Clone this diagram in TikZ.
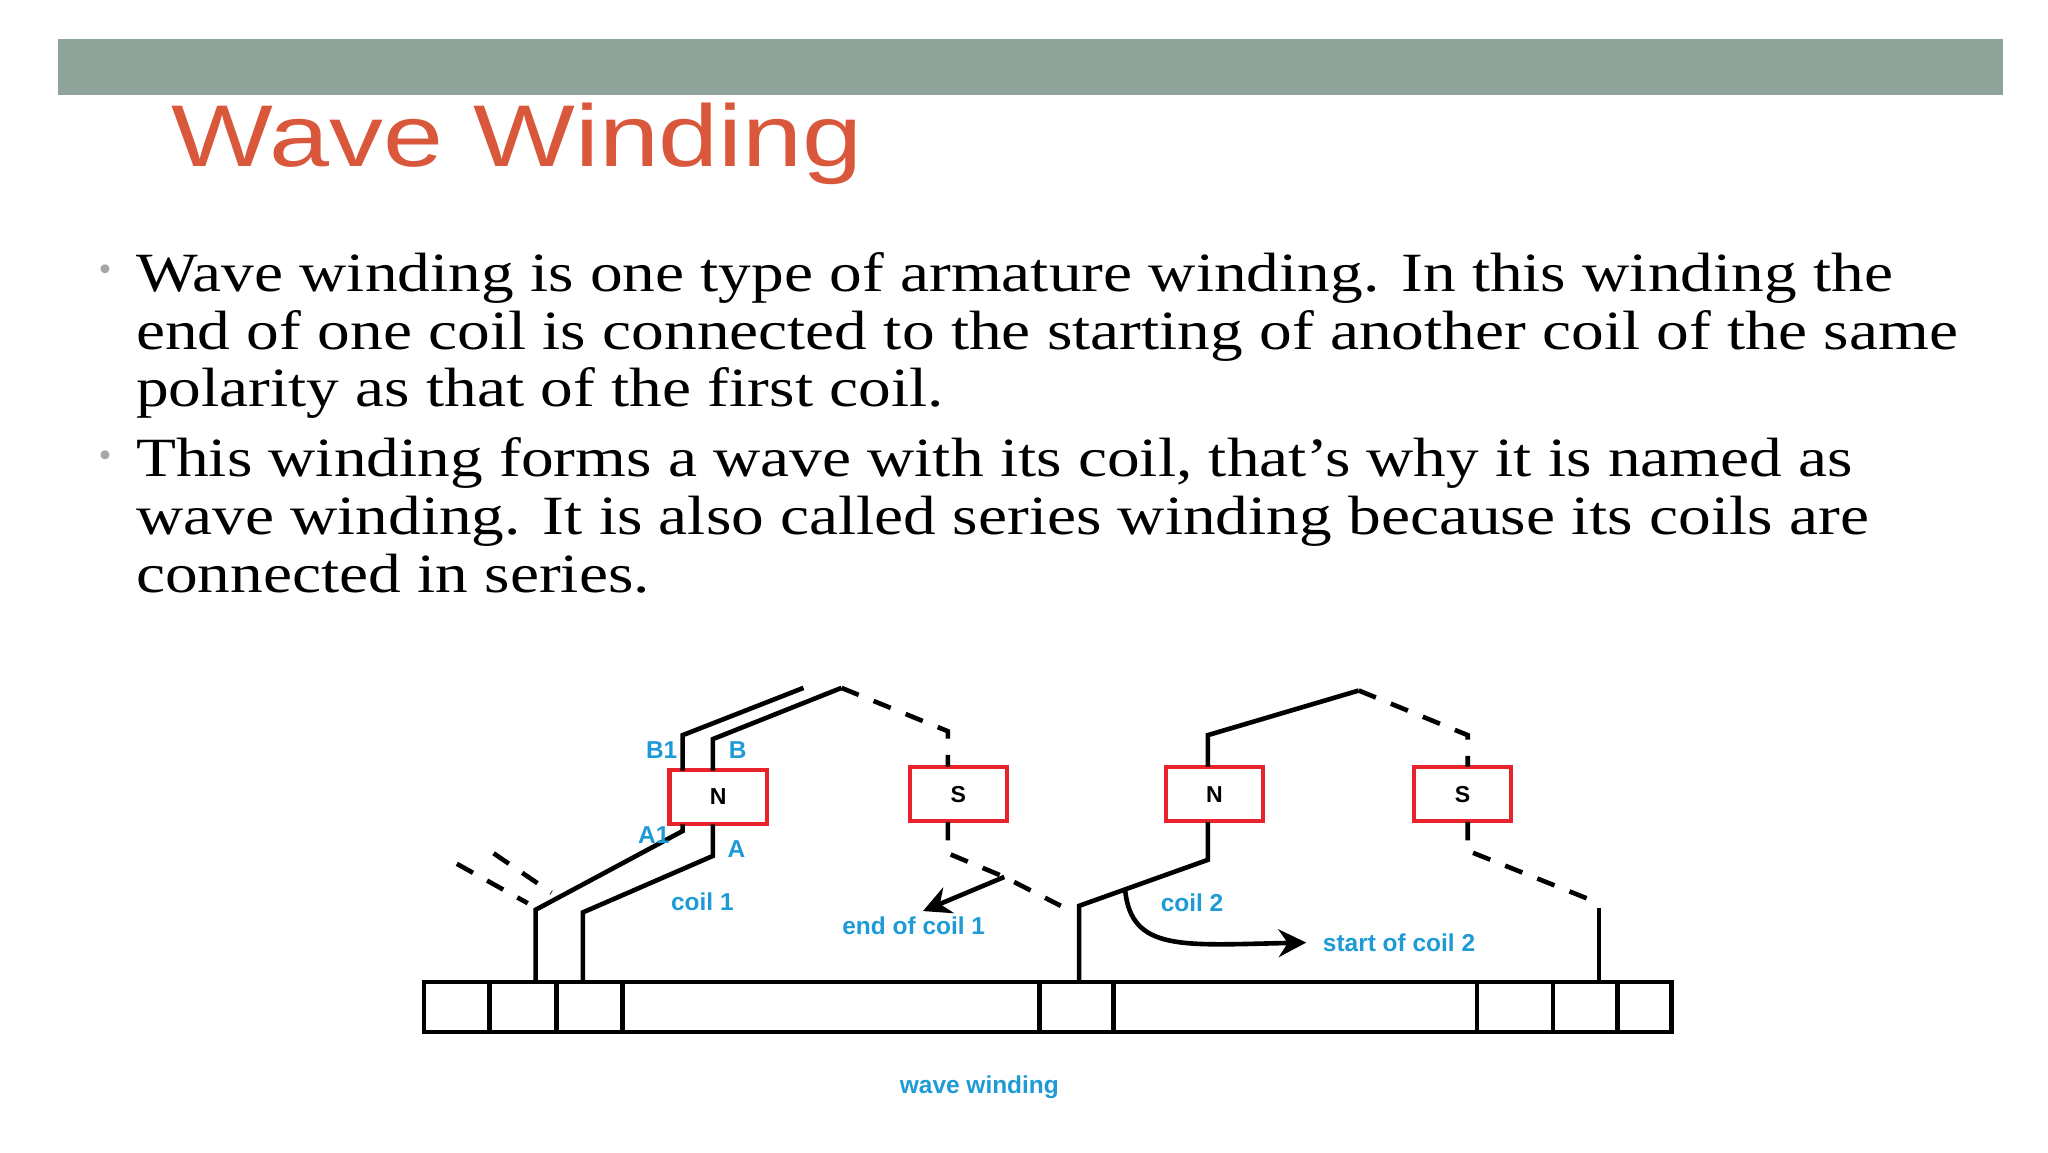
\documentclass[tikz,border=0pt]{standalone}
\usepackage{fontspec}
\setmainfont{Liberation Serif}
\newfontfamily\titlefont{Liberation Sans}
\usetikzlibrary{arrows.meta}
\definecolor{barcol}{HTML}{8FA39A}
\definecolor{titlecol}{HTML}{D9583B}
\definecolor{labcol}{HTML}{1E9BD7}
\definecolor{boxred}{HTML}{E8232B}
\begin{document}
\begin{tikzpicture}[x=0.1mm,y=-0.1mm,
  wire/.style={line width=1pt,black},
  dwire/.style={line width=1pt,black,dash pattern=on 4pt off 3.5pt},
  pole/.style={draw=boxred,line width=0.9pt,minimum width=7.4mm,minimum height=4.1mm,inner sep=0pt,font=\titlefont\bfseries\fontsize{5}{6}\selectfont},
  lab/.style={text=labcol,font=\titlefont\bfseries\fontsize{5.3}{6}\selectfont,inner sep=0pt},
  body/.style={anchor=base west,inner sep=0pt,font=\fontsize{12}{12}\selectfont,xscale=1.18},
  bul/.style={text=gray!70,font=\fontsize{8}{8}\selectfont,inner sep=0pt}]
\useasboundingbox (0,0) rectangle (1560,878);
\fill[white] (0,0) rectangle (1560,878);
\fill[barcol] (44,30) rectangle (1526,72);
\node[anchor=base west,inner sep=0pt,text=titlecol,font=\titlefont\fontsize{19}{20}\selectfont,xscale=1.23] (title) at (130,127) {Wave Winding};
\node[bul] (b1) at (80,208) {•};
\node[bul] (b2) at (80,350) {•};
\node[body] (l1) at (103,222) {Wave winding is one type of armature winding. In this winding the};
\node[body] (l2) at (103,266) {end of one coil is connected to the starting of another coil of the same};
\node[body] (l3) at (103,310) {polarity as that of the first coil.};
\node[body] (l4) at (103,363) {This winding forms a wave with its coil, that’s why it is named as};
\node[body] (l5) at (103,407) {wave winding. It is also called series winding because its coils are};
\node[body] (l6) at (103,451) {connected in series.};
% commutator
\draw[line width=1pt] (323,748) rectangle (1273,786);
\foreach \x in {373,424,474,792,848,1125,1183,1232} \draw[line width=1pt] (\x,748) -- (\x,786);
% poles
\node[pole] (N1) at (547,607) {N};
\node[pole] (S1) at (730,605) {S};
\node[pole] (N2) at (925,605) {N};
\node[pole] (S2) at (1114,605) {S};
% coil 1
\draw[wire] (408,748) -- (408,693) -- (520,633) -- (520,628);
\draw[wire] (520,587) -- (520,560) -- (612,524);
\draw[wire] (444,748) -- (444,695) -- (543,652) -- (543,628);
\draw[wire] (543,587) -- (543,563) -- (641,524);
\draw[dwire] (641,524) -- (722,557) -- (722,584);
\draw[dwire] (722,626) -- (722,650) -- (765,668) -- (808,690);
\draw[dwire] (348,658) -- (402,688);
\draw[dwire] (376,650) -- (420,680);
\coordinate (e1) at (765,668);
\coordinate (e2) at (703,694);
\draw[wire,-{Stealth[length=6pt,width=6pt,inset=2pt]}] (e1) -- (e2);
% coil 2
\draw[wire] (822,748) -- (822,690) -- (920,655) -- (920,626);
\draw[wire] (920,584) -- (920,560) -- (1035,526);
\draw[dwire] (1035,526) -- (1118,560) -- (1118,584);
\draw[dwire] (1118,626) -- (1118,648) -- (1213,686);
\draw[wire] (1218,692) -- (1218,748);
\coordinate (s1) at (857,678);
\coordinate (s2) at (995,718);
\draw[wire,-{Stealth[length=6pt,width=6pt,inset=2pt]}] (s1) .. controls (862,725) and (900,720) .. (s2);
% labels
\node[lab] (lB1) at (504,571) {B1};
\node[lab] (lB) at (562,571) {B};
\node[lab] (lA1) at (498,636) {A1};
\node[lab] (lA) at (561,647) {A};
\node[lab] (c1) at (535,687) {coil 1};
\node[lab] (eoc) at (696,705) {end of coil 1};
\node[lab] (c2) at (908,688) {coil 2};
\node[lab,anchor=west] (soc) at (1007,718) {start of coil 2};
\node[lab] (ww) at (746,828) {wave winding};
\end{tikzpicture}
\end{document}
